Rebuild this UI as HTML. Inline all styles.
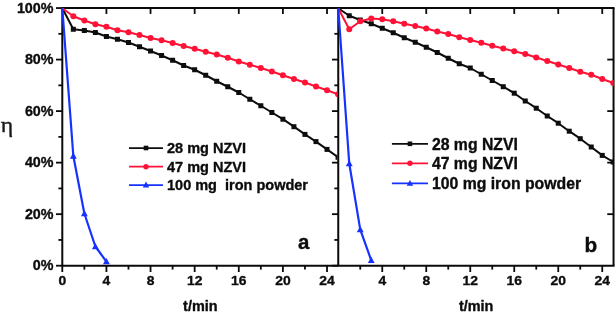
<!DOCTYPE html>
<html><head><meta charset="utf-8"><title>chart</title>
<style>html,body{margin:0;padding:0;background:#fff;}svg{display:block;}</style>
</head><body>
<svg width="616" height="313" viewBox="0 0 616 313">
<rect width="616" height="313" fill="#ffffff"/>
<line x1="61.30" y1="8.05" x2="614.55" y2="8.05" stroke="#0a0a0a" stroke-width="2.00"/>
<line x1="61.30" y1="265.70" x2="614.55" y2="265.70" stroke="#0a0a0a" stroke-width="2.00"/>
<line x1="62.30" y1="8.05" x2="62.30" y2="265.70" stroke="#0a0a0a" stroke-width="2.00"/>
<line x1="338.25" y1="8.05" x2="338.25" y2="265.70" stroke="#0a0a0a" stroke-width="2.00"/>
<line x1="613.55" y1="8.05" x2="613.55" y2="265.70" stroke="#0a0a0a" stroke-width="2.00"/>
<line x1="62.30" y1="265.70" x2="62.30" y2="272.00" stroke="#0a0a0a" stroke-width="1.80"/>
<line x1="84.36" y1="265.70" x2="84.36" y2="269.60" stroke="#0a0a0a" stroke-width="1.80"/>
<line x1="106.42" y1="265.70" x2="106.42" y2="272.00" stroke="#0a0a0a" stroke-width="1.80"/>
<line x1="106.42" y1="8.05" x2="106.42" y2="13.95" stroke="#0a0a0a" stroke-width="1.80"/>
<line x1="128.48" y1="265.70" x2="128.48" y2="269.60" stroke="#0a0a0a" stroke-width="1.80"/>
<line x1="150.54" y1="265.70" x2="150.54" y2="272.00" stroke="#0a0a0a" stroke-width="1.80"/>
<line x1="150.54" y1="8.05" x2="150.54" y2="13.95" stroke="#0a0a0a" stroke-width="1.80"/>
<line x1="172.60" y1="265.70" x2="172.60" y2="269.60" stroke="#0a0a0a" stroke-width="1.80"/>
<line x1="194.66" y1="265.70" x2="194.66" y2="272.00" stroke="#0a0a0a" stroke-width="1.80"/>
<line x1="194.66" y1="8.05" x2="194.66" y2="13.95" stroke="#0a0a0a" stroke-width="1.80"/>
<line x1="216.72" y1="265.70" x2="216.72" y2="269.60" stroke="#0a0a0a" stroke-width="1.80"/>
<line x1="238.78" y1="265.70" x2="238.78" y2="272.00" stroke="#0a0a0a" stroke-width="1.80"/>
<line x1="238.78" y1="8.05" x2="238.78" y2="13.95" stroke="#0a0a0a" stroke-width="1.80"/>
<line x1="260.84" y1="265.70" x2="260.84" y2="269.60" stroke="#0a0a0a" stroke-width="1.80"/>
<line x1="282.90" y1="265.70" x2="282.90" y2="272.00" stroke="#0a0a0a" stroke-width="1.80"/>
<line x1="282.90" y1="8.05" x2="282.90" y2="13.95" stroke="#0a0a0a" stroke-width="1.80"/>
<line x1="304.96" y1="265.70" x2="304.96" y2="269.60" stroke="#0a0a0a" stroke-width="1.80"/>
<line x1="327.02" y1="265.70" x2="327.02" y2="272.00" stroke="#0a0a0a" stroke-width="1.80"/>
<line x1="327.02" y1="8.05" x2="327.02" y2="13.95" stroke="#0a0a0a" stroke-width="1.80"/>
<line x1="360.25" y1="265.70" x2="360.25" y2="269.60" stroke="#0a0a0a" stroke-width="1.80"/>
<line x1="382.25" y1="265.70" x2="382.25" y2="272.00" stroke="#0a0a0a" stroke-width="1.80"/>
<line x1="382.25" y1="8.05" x2="382.25" y2="13.95" stroke="#0a0a0a" stroke-width="1.80"/>
<line x1="404.25" y1="265.70" x2="404.25" y2="269.60" stroke="#0a0a0a" stroke-width="1.80"/>
<line x1="426.25" y1="265.70" x2="426.25" y2="272.00" stroke="#0a0a0a" stroke-width="1.80"/>
<line x1="426.25" y1="8.05" x2="426.25" y2="13.95" stroke="#0a0a0a" stroke-width="1.80"/>
<line x1="448.25" y1="265.70" x2="448.25" y2="269.60" stroke="#0a0a0a" stroke-width="1.80"/>
<line x1="470.25" y1="265.70" x2="470.25" y2="272.00" stroke="#0a0a0a" stroke-width="1.80"/>
<line x1="470.25" y1="8.05" x2="470.25" y2="13.95" stroke="#0a0a0a" stroke-width="1.80"/>
<line x1="492.25" y1="265.70" x2="492.25" y2="269.60" stroke="#0a0a0a" stroke-width="1.80"/>
<line x1="514.25" y1="265.70" x2="514.25" y2="272.00" stroke="#0a0a0a" stroke-width="1.80"/>
<line x1="514.25" y1="8.05" x2="514.25" y2="13.95" stroke="#0a0a0a" stroke-width="1.80"/>
<line x1="536.25" y1="265.70" x2="536.25" y2="269.60" stroke="#0a0a0a" stroke-width="1.80"/>
<line x1="558.25" y1="265.70" x2="558.25" y2="272.00" stroke="#0a0a0a" stroke-width="1.80"/>
<line x1="558.25" y1="8.05" x2="558.25" y2="13.95" stroke="#0a0a0a" stroke-width="1.80"/>
<line x1="580.25" y1="265.70" x2="580.25" y2="269.60" stroke="#0a0a0a" stroke-width="1.80"/>
<line x1="602.25" y1="265.70" x2="602.25" y2="272.00" stroke="#0a0a0a" stroke-width="1.80"/>
<line x1="602.25" y1="8.05" x2="602.25" y2="13.95" stroke="#0a0a0a" stroke-width="1.80"/>
<line x1="56.00" y1="265.70" x2="62.30" y2="265.70" stroke="#0a0a0a" stroke-width="1.80"/>
<line x1="58.40" y1="239.94" x2="62.30" y2="239.94" stroke="#0a0a0a" stroke-width="1.80"/>
<line x1="56.00" y1="214.17" x2="62.30" y2="214.17" stroke="#0a0a0a" stroke-width="1.80"/>
<line x1="58.40" y1="188.41" x2="62.30" y2="188.41" stroke="#0a0a0a" stroke-width="1.80"/>
<line x1="56.00" y1="162.64" x2="62.30" y2="162.64" stroke="#0a0a0a" stroke-width="1.80"/>
<line x1="58.40" y1="136.88" x2="62.30" y2="136.88" stroke="#0a0a0a" stroke-width="1.80"/>
<line x1="56.00" y1="111.11" x2="62.30" y2="111.11" stroke="#0a0a0a" stroke-width="1.80"/>
<line x1="58.40" y1="85.34" x2="62.30" y2="85.34" stroke="#0a0a0a" stroke-width="1.80"/>
<line x1="56.00" y1="59.58" x2="62.30" y2="59.58" stroke="#0a0a0a" stroke-width="1.80"/>
<line x1="58.40" y1="33.82" x2="62.30" y2="33.82" stroke="#0a0a0a" stroke-width="1.80"/>
<line x1="56.00" y1="8.05" x2="62.30" y2="8.05" stroke="#0a0a0a" stroke-width="1.80"/>
<line x1="331.95" y1="265.70" x2="338.25" y2="265.70" stroke="#0a0a0a" stroke-width="1.80"/>
<line x1="334.35" y1="239.94" x2="338.25" y2="239.94" stroke="#0a0a0a" stroke-width="1.80"/>
<line x1="331.95" y1="214.17" x2="338.25" y2="214.17" stroke="#0a0a0a" stroke-width="1.80"/>
<line x1="334.35" y1="188.41" x2="338.25" y2="188.41" stroke="#0a0a0a" stroke-width="1.80"/>
<line x1="331.95" y1="162.64" x2="338.25" y2="162.64" stroke="#0a0a0a" stroke-width="1.80"/>
<line x1="334.35" y1="136.88" x2="338.25" y2="136.88" stroke="#0a0a0a" stroke-width="1.80"/>
<line x1="331.95" y1="111.11" x2="338.25" y2="111.11" stroke="#0a0a0a" stroke-width="1.80"/>
<line x1="334.35" y1="85.34" x2="338.25" y2="85.34" stroke="#0a0a0a" stroke-width="1.80"/>
<line x1="331.95" y1="59.58" x2="338.25" y2="59.58" stroke="#0a0a0a" stroke-width="1.80"/>
<line x1="334.35" y1="33.82" x2="338.25" y2="33.82" stroke="#0a0a0a" stroke-width="1.80"/>
<line x1="331.95" y1="8.05" x2="338.25" y2="8.05" stroke="#0a0a0a" stroke-width="1.80"/>
<line x1="607.25" y1="214.17" x2="613.55" y2="214.17" stroke="#0a0a0a" stroke-width="1.80"/>
<line x1="607.25" y1="162.64" x2="613.55" y2="162.64" stroke="#0a0a0a" stroke-width="1.80"/>
<line x1="607.25" y1="111.11" x2="613.55" y2="111.11" stroke="#0a0a0a" stroke-width="1.80"/>
<line x1="607.25" y1="59.58" x2="613.55" y2="59.58" stroke="#0a0a0a" stroke-width="1.80"/>
<clipPath id="ca"><rect x="61.10" y="0" width="276.15" height="266.70"/></clipPath>
<clipPath id="cb"><rect x="337.05" y="0" width="276.70" height="266.70"/></clipPath>
<g clip-path="url(#ca)">
<polyline fill="none" stroke="#0d0d0d" stroke-width="2.00" stroke-linejoin="round" points="62.30,8.25 73.33,29.25 84.36,30.50 95.39,32.50 106.42,36.50 117.45,39.25 128.48,42.50 139.51,46.75 150.54,51.00 161.57,55.50 172.60,60.25 183.63,65.50 194.66,69.75 205.69,75.25 216.72,81.25 227.75,86.75 238.78,92.50 249.81,99.25 260.84,105.75 271.87,112.50 282.90,119.20 293.93,126.70 304.96,134.40 315.99,141.60 327.02,149.40 338.05,157.30"/>
<rect x="70.83" y="26.75" width="5.00" height="5.00" fill="#0d0d0d"/>
<rect x="81.86" y="28.00" width="5.00" height="5.00" fill="#0d0d0d"/>
<rect x="92.89" y="30.00" width="5.00" height="5.00" fill="#0d0d0d"/>
<rect x="103.92" y="34.00" width="5.00" height="5.00" fill="#0d0d0d"/>
<rect x="114.95" y="36.75" width="5.00" height="5.00" fill="#0d0d0d"/>
<rect x="125.98" y="40.00" width="5.00" height="5.00" fill="#0d0d0d"/>
<rect x="137.01" y="44.25" width="5.00" height="5.00" fill="#0d0d0d"/>
<rect x="148.04" y="48.50" width="5.00" height="5.00" fill="#0d0d0d"/>
<rect x="159.07" y="53.00" width="5.00" height="5.00" fill="#0d0d0d"/>
<rect x="170.10" y="57.75" width="5.00" height="5.00" fill="#0d0d0d"/>
<rect x="181.13" y="63.00" width="5.00" height="5.00" fill="#0d0d0d"/>
<rect x="192.16" y="67.25" width="5.00" height="5.00" fill="#0d0d0d"/>
<rect x="203.19" y="72.75" width="5.00" height="5.00" fill="#0d0d0d"/>
<rect x="214.22" y="78.75" width="5.00" height="5.00" fill="#0d0d0d"/>
<rect x="225.25" y="84.25" width="5.00" height="5.00" fill="#0d0d0d"/>
<rect x="236.28" y="90.00" width="5.00" height="5.00" fill="#0d0d0d"/>
<rect x="247.31" y="96.75" width="5.00" height="5.00" fill="#0d0d0d"/>
<rect x="258.34" y="103.25" width="5.00" height="5.00" fill="#0d0d0d"/>
<rect x="269.37" y="110.00" width="5.00" height="5.00" fill="#0d0d0d"/>
<rect x="280.40" y="116.70" width="5.00" height="5.00" fill="#0d0d0d"/>
<rect x="291.43" y="124.20" width="5.00" height="5.00" fill="#0d0d0d"/>
<rect x="302.46" y="131.90" width="5.00" height="5.00" fill="#0d0d0d"/>
<rect x="313.49" y="139.10" width="5.00" height="5.00" fill="#0d0d0d"/>
<rect x="324.52" y="146.90" width="5.00" height="5.00" fill="#0d0d0d"/>
<rect x="335.55" y="154.80" width="5.00" height="5.00" fill="#0d0d0d"/>
<polyline fill="none" stroke="#ff1236" stroke-width="2.00" stroke-linejoin="round" points="62.30,8.25 73.33,16.25 84.36,20.50 95.39,24.25 106.42,26.75 117.45,30.25 128.48,32.25 139.51,35.00 150.54,38.00 161.57,40.25 172.60,43.00 183.63,46.00 194.66,48.75 205.69,51.75 216.72,54.50 227.75,57.75 238.78,61.50 249.81,64.75 260.84,68.00 271.87,71.50 282.90,75.25 293.93,79.00 304.96,82.50 315.99,86.50 327.02,90.25 338.05,94.25"/>
<circle cx="73.33" cy="16.25" r="3.0" fill="#ff1236"/>
<circle cx="84.36" cy="20.50" r="3.0" fill="#ff1236"/>
<circle cx="95.39" cy="24.25" r="3.0" fill="#ff1236"/>
<circle cx="106.42" cy="26.75" r="3.0" fill="#ff1236"/>
<circle cx="117.45" cy="30.25" r="3.0" fill="#ff1236"/>
<circle cx="128.48" cy="32.25" r="3.0" fill="#ff1236"/>
<circle cx="139.51" cy="35.00" r="3.0" fill="#ff1236"/>
<circle cx="150.54" cy="38.00" r="3.0" fill="#ff1236"/>
<circle cx="161.57" cy="40.25" r="3.0" fill="#ff1236"/>
<circle cx="172.60" cy="43.00" r="3.0" fill="#ff1236"/>
<circle cx="183.63" cy="46.00" r="3.0" fill="#ff1236"/>
<circle cx="194.66" cy="48.75" r="3.0" fill="#ff1236"/>
<circle cx="205.69" cy="51.75" r="3.0" fill="#ff1236"/>
<circle cx="216.72" cy="54.50" r="3.0" fill="#ff1236"/>
<circle cx="227.75" cy="57.75" r="3.0" fill="#ff1236"/>
<circle cx="238.78" cy="61.50" r="3.0" fill="#ff1236"/>
<circle cx="249.81" cy="64.75" r="3.0" fill="#ff1236"/>
<circle cx="260.84" cy="68.00" r="3.0" fill="#ff1236"/>
<circle cx="271.87" cy="71.50" r="3.0" fill="#ff1236"/>
<circle cx="282.90" cy="75.25" r="3.0" fill="#ff1236"/>
<circle cx="293.93" cy="79.00" r="3.0" fill="#ff1236"/>
<circle cx="304.96" cy="82.50" r="3.0" fill="#ff1236"/>
<circle cx="315.99" cy="86.50" r="3.0" fill="#ff1236"/>
<circle cx="327.02" cy="90.25" r="3.0" fill="#ff1236"/>
<circle cx="338.05" cy="94.25" r="3.0" fill="#ff1236"/>
<polyline fill="none" stroke="#1632ff" stroke-width="2.20" stroke-linejoin="round" points="62.30,8.25 73.33,156.00 84.36,213.50 95.39,246.50 106.42,261.60"/>
<polygon points="73.33,152.40 69.91,158.70 76.75,158.70" fill="#1632ff"/>
<polygon points="84.36,209.90 80.94,216.20 87.78,216.20" fill="#1632ff"/>
<polygon points="95.39,242.90 91.97,249.20 98.81,249.20" fill="#1632ff"/>
<polygon points="106.42,258.00 103.00,264.30 109.84,264.30" fill="#1632ff"/>
</g>
<g clip-path="url(#cb)">
<polyline fill="none" stroke="#0d0d0d" stroke-width="2.00" stroke-linejoin="round" points="338.25,8.25 349.25,15.75 360.25,20.00 371.25,23.75 382.25,28.25 393.25,32.75 404.25,37.75 415.25,42.25 426.25,47.25 437.25,52.50 448.25,58.25 459.25,63.75 470.25,68.00 481.25,74.25 492.25,80.50 503.25,86.70 514.25,93.20 525.25,101.00 536.25,108.20 547.25,116.00 558.25,123.20 569.25,131.20 580.25,138.70 591.25,147.00 602.25,155.40 613.25,162.00"/>
<rect x="346.75" y="13.25" width="5.00" height="5.00" fill="#0d0d0d"/>
<rect x="357.75" y="17.50" width="5.00" height="5.00" fill="#0d0d0d"/>
<rect x="368.75" y="21.25" width="5.00" height="5.00" fill="#0d0d0d"/>
<rect x="379.75" y="25.75" width="5.00" height="5.00" fill="#0d0d0d"/>
<rect x="390.75" y="30.25" width="5.00" height="5.00" fill="#0d0d0d"/>
<rect x="401.75" y="35.25" width="5.00" height="5.00" fill="#0d0d0d"/>
<rect x="412.75" y="39.75" width="5.00" height="5.00" fill="#0d0d0d"/>
<rect x="423.75" y="44.75" width="5.00" height="5.00" fill="#0d0d0d"/>
<rect x="434.75" y="50.00" width="5.00" height="5.00" fill="#0d0d0d"/>
<rect x="445.75" y="55.75" width="5.00" height="5.00" fill="#0d0d0d"/>
<rect x="456.75" y="61.25" width="5.00" height="5.00" fill="#0d0d0d"/>
<rect x="467.75" y="65.50" width="5.00" height="5.00" fill="#0d0d0d"/>
<rect x="478.75" y="71.75" width="5.00" height="5.00" fill="#0d0d0d"/>
<rect x="489.75" y="78.00" width="5.00" height="5.00" fill="#0d0d0d"/>
<rect x="500.75" y="84.20" width="5.00" height="5.00" fill="#0d0d0d"/>
<rect x="511.75" y="90.70" width="5.00" height="5.00" fill="#0d0d0d"/>
<rect x="522.75" y="98.50" width="5.00" height="5.00" fill="#0d0d0d"/>
<rect x="533.75" y="105.70" width="5.00" height="5.00" fill="#0d0d0d"/>
<rect x="544.75" y="113.50" width="5.00" height="5.00" fill="#0d0d0d"/>
<rect x="555.75" y="120.70" width="5.00" height="5.00" fill="#0d0d0d"/>
<rect x="566.75" y="128.70" width="5.00" height="5.00" fill="#0d0d0d"/>
<rect x="577.75" y="136.20" width="5.00" height="5.00" fill="#0d0d0d"/>
<rect x="588.75" y="144.50" width="5.00" height="5.00" fill="#0d0d0d"/>
<rect x="599.75" y="152.90" width="5.00" height="5.00" fill="#0d0d0d"/>
<rect x="610.75" y="159.50" width="5.00" height="5.00" fill="#0d0d0d"/>
<polyline fill="none" stroke="#ff1236" stroke-width="2.00" stroke-linejoin="round" points="338.25,8.25 349.25,29.25 360.25,21.25 371.25,18.50 382.25,19.25 393.25,21.25 404.25,23.75 415.25,26.00 426.25,28.50 437.25,31.50 448.25,34.00 459.25,37.25 470.25,40.00 481.25,42.75 492.25,45.75 503.25,48.50 514.25,51.25 525.25,54.00 536.25,57.50 547.25,61.00 558.25,64.50 569.25,68.00 580.25,71.75 591.25,74.75 602.25,79.00 613.25,83.00"/>
<circle cx="349.25" cy="29.25" r="3.0" fill="#ff1236"/>
<circle cx="360.25" cy="21.25" r="3.0" fill="#ff1236"/>
<circle cx="371.25" cy="18.50" r="3.0" fill="#ff1236"/>
<circle cx="382.25" cy="19.25" r="3.0" fill="#ff1236"/>
<circle cx="393.25" cy="21.25" r="3.0" fill="#ff1236"/>
<circle cx="404.25" cy="23.75" r="3.0" fill="#ff1236"/>
<circle cx="415.25" cy="26.00" r="3.0" fill="#ff1236"/>
<circle cx="426.25" cy="28.50" r="3.0" fill="#ff1236"/>
<circle cx="437.25" cy="31.50" r="3.0" fill="#ff1236"/>
<circle cx="448.25" cy="34.00" r="3.0" fill="#ff1236"/>
<circle cx="459.25" cy="37.25" r="3.0" fill="#ff1236"/>
<circle cx="470.25" cy="40.00" r="3.0" fill="#ff1236"/>
<circle cx="481.25" cy="42.75" r="3.0" fill="#ff1236"/>
<circle cx="492.25" cy="45.75" r="3.0" fill="#ff1236"/>
<circle cx="503.25" cy="48.50" r="3.0" fill="#ff1236"/>
<circle cx="514.25" cy="51.25" r="3.0" fill="#ff1236"/>
<circle cx="525.25" cy="54.00" r="3.0" fill="#ff1236"/>
<circle cx="536.25" cy="57.50" r="3.0" fill="#ff1236"/>
<circle cx="547.25" cy="61.00" r="3.0" fill="#ff1236"/>
<circle cx="558.25" cy="64.50" r="3.0" fill="#ff1236"/>
<circle cx="569.25" cy="68.00" r="3.0" fill="#ff1236"/>
<circle cx="580.25" cy="71.75" r="3.0" fill="#ff1236"/>
<circle cx="591.25" cy="74.75" r="3.0" fill="#ff1236"/>
<circle cx="602.25" cy="79.00" r="3.0" fill="#ff1236"/>
<circle cx="613.25" cy="83.00" r="3.0" fill="#ff1236"/>
<polyline fill="none" stroke="#1632ff" stroke-width="2.20" stroke-linejoin="round" points="338.25,8.25 349.25,163.50 360.25,229.60 371.25,260.30"/>
<polygon points="349.25,159.90 345.83,166.20 352.67,166.20" fill="#1632ff"/>
<polygon points="360.25,226.00 356.83,232.30 363.67,232.30" fill="#1632ff"/>
<polygon points="371.25,256.70 367.83,263.00 374.67,263.00" fill="#1632ff"/>
</g>
<text transform="translate(62.30,285.40) scale(1.020,1)" font-size="13.60" text-anchor="middle" font-family="Liberation Sans, Arial, sans-serif" font-weight="bold" fill="#0c0c0c" stroke="#0c0c0c" stroke-width="0.35" stroke-linejoin="round" >0</text>
<text transform="translate(106.42,285.40) scale(1.020,1)" font-size="13.60" text-anchor="middle" font-family="Liberation Sans, Arial, sans-serif" font-weight="bold" fill="#0c0c0c" stroke="#0c0c0c" stroke-width="0.35" stroke-linejoin="round" >4</text>
<text transform="translate(382.25,285.40) scale(1.020,1)" font-size="13.60" text-anchor="middle" font-family="Liberation Sans, Arial, sans-serif" font-weight="bold" fill="#0c0c0c" stroke="#0c0c0c" stroke-width="0.35" stroke-linejoin="round" >4</text>
<text transform="translate(150.54,285.40) scale(1.020,1)" font-size="13.60" text-anchor="middle" font-family="Liberation Sans, Arial, sans-serif" font-weight="bold" fill="#0c0c0c" stroke="#0c0c0c" stroke-width="0.35" stroke-linejoin="round" >8</text>
<text transform="translate(426.25,285.40) scale(1.020,1)" font-size="13.60" text-anchor="middle" font-family="Liberation Sans, Arial, sans-serif" font-weight="bold" fill="#0c0c0c" stroke="#0c0c0c" stroke-width="0.35" stroke-linejoin="round" >8</text>
<text transform="translate(194.66,285.40) scale(1.020,1)" font-size="13.60" text-anchor="middle" font-family="Liberation Sans, Arial, sans-serif" font-weight="bold" fill="#0c0c0c" stroke="#0c0c0c" stroke-width="0.35" stroke-linejoin="round" >12</text>
<text transform="translate(470.25,285.40) scale(1.020,1)" font-size="13.60" text-anchor="middle" font-family="Liberation Sans, Arial, sans-serif" font-weight="bold" fill="#0c0c0c" stroke="#0c0c0c" stroke-width="0.35" stroke-linejoin="round" >12</text>
<text transform="translate(238.78,285.40) scale(1.020,1)" font-size="13.60" text-anchor="middle" font-family="Liberation Sans, Arial, sans-serif" font-weight="bold" fill="#0c0c0c" stroke="#0c0c0c" stroke-width="0.35" stroke-linejoin="round" >16</text>
<text transform="translate(514.25,285.40) scale(1.020,1)" font-size="13.60" text-anchor="middle" font-family="Liberation Sans, Arial, sans-serif" font-weight="bold" fill="#0c0c0c" stroke="#0c0c0c" stroke-width="0.35" stroke-linejoin="round" >16</text>
<text transform="translate(282.90,285.40) scale(1.020,1)" font-size="13.60" text-anchor="middle" font-family="Liberation Sans, Arial, sans-serif" font-weight="bold" fill="#0c0c0c" stroke="#0c0c0c" stroke-width="0.35" stroke-linejoin="round" >20</text>
<text transform="translate(558.25,285.40) scale(1.020,1)" font-size="13.60" text-anchor="middle" font-family="Liberation Sans, Arial, sans-serif" font-weight="bold" fill="#0c0c0c" stroke="#0c0c0c" stroke-width="0.35" stroke-linejoin="round" >20</text>
<text transform="translate(327.02,285.40) scale(1.020,1)" font-size="13.60" text-anchor="middle" font-family="Liberation Sans, Arial, sans-serif" font-weight="bold" fill="#0c0c0c" stroke="#0c0c0c" stroke-width="0.35" stroke-linejoin="round" >24</text>
<text transform="translate(602.25,285.40) scale(1.020,1)" font-size="13.60" text-anchor="middle" font-family="Liberation Sans, Arial, sans-serif" font-weight="bold" fill="#0c0c0c" stroke="#0c0c0c" stroke-width="0.35" stroke-linejoin="round" >24</text>
<text x="53.50" y="270.20" font-size="14.30" text-anchor="end" font-family="Liberation Sans, Arial, sans-serif" font-weight="bold" fill="#0c0c0c" stroke="#0c0c0c" stroke-width="0.35" stroke-linejoin="round" >0%</text>
<text x="53.50" y="218.67" font-size="14.30" text-anchor="end" font-family="Liberation Sans, Arial, sans-serif" font-weight="bold" fill="#0c0c0c" stroke="#0c0c0c" stroke-width="0.35" stroke-linejoin="round" >20%</text>
<text x="53.50" y="167.14" font-size="14.30" text-anchor="end" font-family="Liberation Sans, Arial, sans-serif" font-weight="bold" fill="#0c0c0c" stroke="#0c0c0c" stroke-width="0.35" stroke-linejoin="round" >40%</text>
<text x="53.50" y="115.61" font-size="14.30" text-anchor="end" font-family="Liberation Sans, Arial, sans-serif" font-weight="bold" fill="#0c0c0c" stroke="#0c0c0c" stroke-width="0.35" stroke-linejoin="round" >60%</text>
<text x="53.50" y="64.08" font-size="14.30" text-anchor="end" font-family="Liberation Sans, Arial, sans-serif" font-weight="bold" fill="#0c0c0c" stroke="#0c0c0c" stroke-width="0.35" stroke-linejoin="round" >80%</text>
<text x="53.50" y="12.55" font-size="14.30" text-anchor="end" font-family="Liberation Sans, Arial, sans-serif" font-weight="bold" fill="#0c0c0c" stroke="#0c0c0c" stroke-width="0.35" stroke-linejoin="round" >100%</text>
<text transform="translate(200.30,310.80) scale(1.030,1)" font-size="14.00" text-anchor="middle" font-family="Liberation Sans, Arial, sans-serif" font-weight="bold" fill="#0c0c0c" stroke="#0c0c0c" stroke-width="0.35" stroke-linejoin="round" >t/min</text>
<text transform="translate(476.20,310.80) scale(1.030,1)" font-size="14.00" text-anchor="middle" font-family="Liberation Sans, Arial, sans-serif" font-weight="bold" fill="#0c0c0c" stroke="#0c0c0c" stroke-width="0.35" stroke-linejoin="round" >t/min</text>
<text x="303.60" y="248.50" font-size="20.40" text-anchor="middle" font-family="Liberation Sans, Arial, sans-serif" font-weight="bold" fill="#0c0c0c" stroke="#0c0c0c" stroke-width="0.35" stroke-linejoin="round" >a</text>
<text x="590.80" y="251.60" font-size="20.80" text-anchor="middle" font-family="Liberation Sans, Arial, sans-serif" font-weight="bold" fill="#0c0c0c" stroke="#0c0c0c" stroke-width="0.35" stroke-linejoin="round" >b</text>
<text transform="translate(6.9,132) scale(1.17,1.0)" x="0" y="0" font-size="20.3" text-anchor="middle" font-family="Liberation Serif, serif" fill="#1a1a1a" stroke="#1a1a1a" stroke-width="0.35">η</text>
<line x1="129.00" y1="148.00" x2="163.00" y2="148.00" stroke="#0d0d0d" stroke-width="1.75"/>
<rect x="143.70" y="145.70" width="4.60" height="4.60" fill="#0d0d0d"/>
<text x="167.00" y="152.89" font-size="14.50" text-anchor="start" font-family="Liberation Sans, Arial, sans-serif" font-weight="bold" fill="#0c0c0c" stroke="#0c0c0c" stroke-width="0.35" stroke-linejoin="round" xml:space="preserve">28 mg NZVI</text>
<line x1="129.00" y1="166.70" x2="163.00" y2="166.70" stroke="#ff1236" stroke-width="1.75"/>
<circle cx="146.00" cy="166.70" r="2.7" fill="#ff1236"/>
<text x="167.00" y="171.59" font-size="14.50" text-anchor="start" font-family="Liberation Sans, Arial, sans-serif" font-weight="bold" fill="#0c0c0c" stroke="#0c0c0c" stroke-width="0.35" stroke-linejoin="round" xml:space="preserve">47 mg NZVI</text>
<line x1="129.00" y1="185.00" x2="163.00" y2="185.00" stroke="#1632ff" stroke-width="1.75"/>
<polygon points="146.00,181.60 142.77,187.55 149.23,187.55" fill="#1632ff"/>
<text x="167.00" y="189.89" font-size="14.50" text-anchor="start" font-family="Liberation Sans, Arial, sans-serif" font-weight="bold" fill="#0c0c0c" stroke="#0c0c0c" stroke-width="0.35" stroke-linejoin="round" xml:space="preserve">100 mg  iron powder</text>
<line x1="391.90" y1="143.80" x2="428.00" y2="143.80" stroke="#0d0d0d" stroke-width="1.75"/>
<rect x="407.65" y="141.50" width="4.60" height="4.60" fill="#0d0d0d"/>
<text x="431.90" y="149.76" font-size="15.80" text-anchor="start" font-family="Liberation Sans, Arial, sans-serif" font-weight="bold" fill="#0c0c0c" stroke="#0c0c0c" stroke-width="0.35" stroke-linejoin="round" xml:space="preserve">28 mg NZVI</text>
<line x1="391.90" y1="163.30" x2="428.00" y2="163.30" stroke="#ff1236" stroke-width="1.75"/>
<circle cx="409.95" cy="163.30" r="2.7" fill="#ff1236"/>
<text x="431.90" y="169.26" font-size="15.80" text-anchor="start" font-family="Liberation Sans, Arial, sans-serif" font-weight="bold" fill="#0c0c0c" stroke="#0c0c0c" stroke-width="0.35" stroke-linejoin="round" xml:space="preserve">47 mg NZVI</text>
<line x1="391.90" y1="183.30" x2="428.00" y2="183.30" stroke="#1632ff" stroke-width="1.75"/>
<polygon points="409.95,179.90 406.72,185.85 413.18,185.85" fill="#1632ff"/>
<text x="431.90" y="189.26" font-size="15.80" text-anchor="start" font-family="Liberation Sans, Arial, sans-serif" font-weight="bold" fill="#0c0c0c" stroke="#0c0c0c" stroke-width="0.35" stroke-linejoin="round" xml:space="preserve">100 mg iron powder</text>
</svg>
</body></html>
